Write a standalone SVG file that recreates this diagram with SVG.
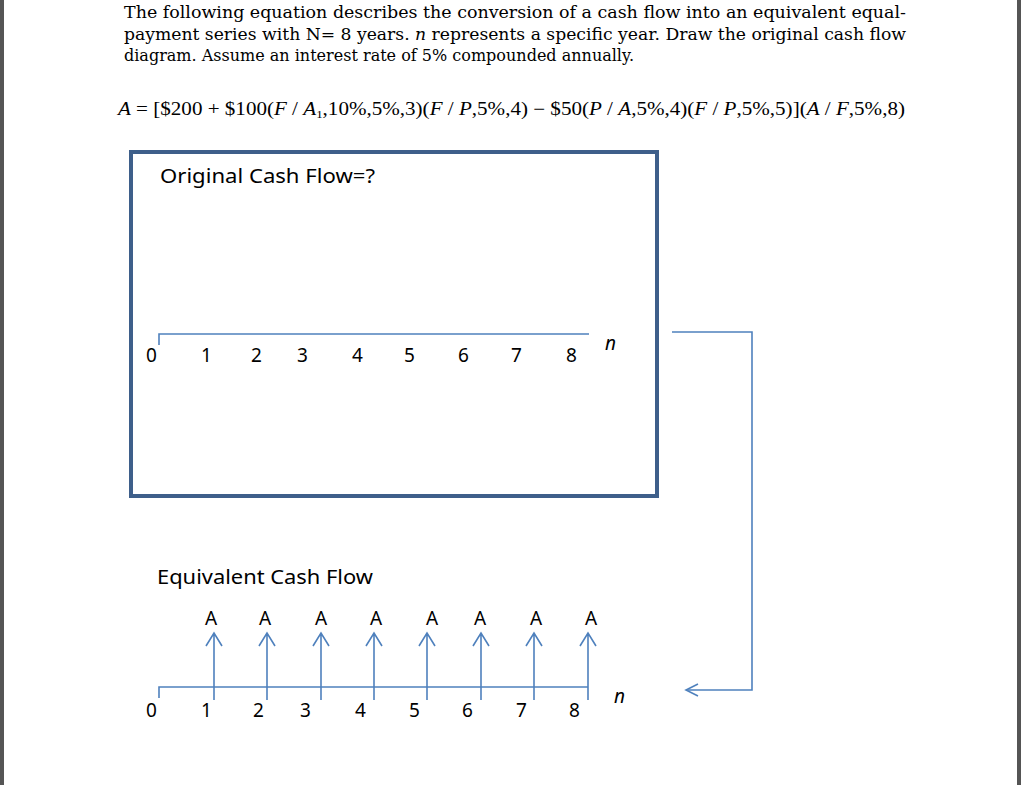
<svg xmlns="http://www.w3.org/2000/svg" width="1021" height="785" viewBox="0 0 1021 785">
<style>
.p{font-family:"DejaVu Serif",serif;font-size:16px;fill:#000}
.q{font-family:"Liberation Serif",serif;font-size:18px;fill:#000}
.c{font-family:"Noto Sans",sans-serif;font-size:19px;fill:#000}
.ax{fill:none;stroke:#4f81bd;stroke-width:1.6}
</style>
<defs><marker id="ah" markerWidth="16" markerHeight="16" refX="14" refY="7" orient="auto" markerUnits="userSpaceOnUse"><path d="M2,1 L14,7 L2,13" fill="none" stroke="#4f81bd" stroke-width="1.6"/></marker></defs>
<rect width="1021" height="785" fill="#fff"/>
<rect x="0" y="0" width="4" height="785" fill="#555"/>
<rect x="1017" y="0" width="4" height="785" fill="#555"/>
<g id="header">
<text class="p" x="124" y="18" textLength="782" lengthAdjust="spacingAndGlyphs">The following equation describes the conversion of a cash flow into an equivalent equal-</text>
<text class="p" x="124" y="40" textLength="782" lengthAdjust="spacingAndGlyphs">payment series with N= 8 years. <tspan font-style="italic">n</tspan> represents a specific year. Draw the original cash flow</text>
<text class="p" x="124" y="61" textLength="510" lengthAdjust="spacingAndGlyphs">diagram. Assume an interest rate of 5% compounded annually.</text>
<text class="q" x="118" y="115" font-style="italic" textLength="787" lengthAdjust="spacingAndGlyphs">A<tspan font-style="normal"> = [$200 + $100(</tspan>F<tspan font-style="normal"> / </tspan>A<tspan font-style="normal" font-size="11" dy="3">1</tspan><tspan font-style="normal" dy="-3">,10%,5%,3)(</tspan>F<tspan font-style="normal"> / </tspan>P<tspan font-style="normal">,5%,4) − $50(</tspan>P<tspan font-style="normal"> / </tspan>A<tspan font-style="normal">,5%,4)(</tspan>F<tspan font-style="normal"> / </tspan>P<tspan font-style="normal">,5%,5)](</tspan>A<tspan font-style="normal"> / </tspan>F<tspan font-style="normal">,5%,8)</tspan></text>
</g>
<g id="original">
<rect x="131" y="152" width="526" height="344" fill="none" stroke="#3e5f8a" stroke-width="4"/>
<text class="c" x="160" y="183" font-size="20" textLength="215" lengthAdjust="spacingAndGlyphs">Original Cash Flow=?</text>
<path class="ax" d="M159,345 V334 H589"/>
<g class="c"><text x="146" y="362">0</text><text x="201" y="362">1</text><text x="251" y="362">2</text><text x="297" y="362">3</text><text x="352" y="362">4</text><text x="404" y="362">5</text><text x="458" y="362">6</text><text x="511" y="362">7</text><text x="566" y="362">8</text></g>
<text class="c" x="605" y="350" font-style="italic">n</text>
</g>
<g id="equivalent">
<text class="c" x="157" y="584" font-size="20" textLength="216" lengthAdjust="spacingAndGlyphs">Equivalent Cash Flow</text>
<path class="ax" d="M159,698 V687 H588"/>
<g class="ax">
<path d="M214,700 V633 M206,646 L214,633 L222,646"/>
<path d="M267,700 V633 M259,646 L267,633 L275,646"/>
<path d="M321,700 V633 M313,646 L321,633 L329,646"/>
<path d="M374,700 V633 M366,646 L374,633 L382,646"/>
<path d="M427,700 V633 M419,646 L427,633 L435,646"/>
<path d="M481,700 V633 M473,646 L481,633 L489,646"/>
<path d="M534,700 V633 M526,646 L534,633 L542,646"/>
<path d="M588,700 V633 M580,646 L588,633 L596,646"/>
</g>
<g class="c" text-anchor="middle"><text x="211" y="625">A</text><text x="265" y="625">A</text><text x="321" y="625">A</text><text x="376" y="625">A</text><text x="432" y="625">A</text><text x="480" y="625">A</text><text x="536" y="625">A</text><text x="591" y="625">A</text></g>
<g class="c"><text x="146" y="717">0</text><text x="201" y="717">1</text><text x="253" y="717">2</text><text x="300" y="717">3</text><text x="355" y="717">4</text><text x="409" y="717">5</text><text x="462" y="717">6</text><text x="516" y="717">7</text><text x="569" y="717">8</text></g>
<text class="c" x="614" y="703" font-style="italic">n</text>
</g>
<g id="connectors">
<path class="ax" d="M672,332 H752 V690 H686" marker-end="url(#ah)"/>
</g>
</svg>
